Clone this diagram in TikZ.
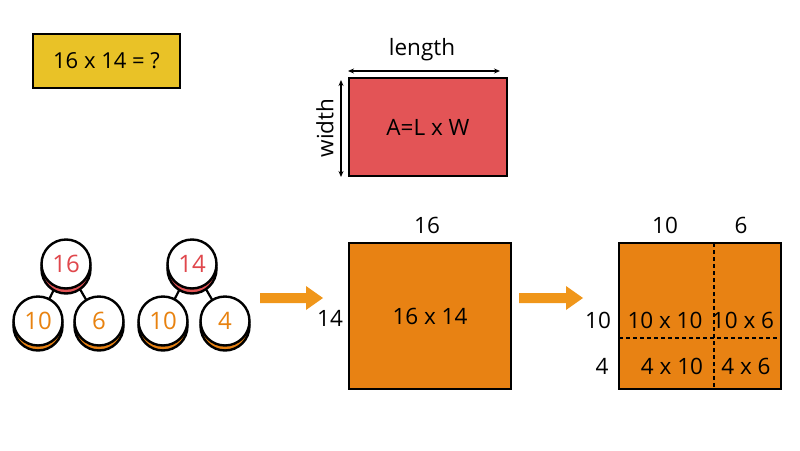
\documentclass[tikz,border=0pt]{standalone}
\usepackage{fontspec}
\setmainfont{Open Sans}
\usetikzlibrary{arrows.meta}
\definecolor{ylw}{HTML}{E9C227}
\definecolor{redf}{HTML}{E35456}
\definecolor{orf}{HTML}{E88213}
\definecolor{ornum}{HTML}{E8820F}
\definecolor{rednum}{HTML}{E0474C}
\definecolor{arr}{HTML}{F0961A}
\tikzset{
  lbl/.style={font=\fontsize{22.5}{26}\selectfont},
  bubble/.style={circle, draw=black, line width=2.4pt, fill=white, minimum size=49pt, inner sep=0pt},
  bnum/.style={font=\fontsize{24}{28}\selectfont},
  bigarrow/.style={draw=none, fill=arr},
  dim/.style={{Stealth[length=6pt,width=5pt]}-{Stealth[length=6pt,width=5pt]}, line width=1.2pt},
  box/.style={draw=black, line width=1.7pt},
}
\newcommand{\bub}[4]{% name, x, y, color
  \fill[#4, draw=black, line width=2.4pt] (#2,#3+5) circle (24.5pt);
  \node[bubble] (#1) at (#2,#3) {};
}
\begin{document}
\begin{tikzpicture}[x=1pt,y=-1pt]
\useasboundingbox (0,0) rectangle (800,450);
% yellow question box
\node[box, fill=ylw, minimum width=147pt, minimum height=54pt, inner sep=0pt, font=\fontsize{22}{26}\selectfont] (q) at (106.5,61) {16 x 14 = ?};
% red rectangle
\node[box, fill=redf, minimum width=158pt, minimum height=98pt, inner sep=0pt, lbl] (red) at (428,127) {A=L x W};
\coordinate (la) at (348,71); \coordinate (lb) at (500,71);
\draw[dim] (la) -- (lb);
\node[lbl] (len) at (422,50) {length};
\coordinate (wa) at (341,80); \coordinate (wb) at (341,177);
\draw[dim] (wa) -- (wb);
\node[lbl, rotate=90] (wid) at (325,128) {width};
% number bonds
\draw[line width=2.2pt] (66,265) -- (38,322);
\draw[line width=2.2pt] (66,265) -- (99,322);
\draw[line width=2.2pt] (192,265) -- (163,322);
\draw[line width=2.2pt] (192,265) -- (225,322);
\bub{b16}{66}{264}{redf}
\bub{b14}{192}{264}{redf}
\bub{b10a}{38}{321}{orf}
\bub{b6}{99}{321}{orf}
\bub{b10b}{163}{321}{orf}
\bub{b4}{225}{321}{orf}
\node[bnum, text=rednum] at (b16) {16};
\node[bnum, text=rednum] at (b14) {14};
\node[bnum, text=ornum] at (b10a) {10};
\node[bnum, text=ornum] at (b6) {6};
\node[bnum, text=ornum] at (b10b) {10};
\node[bnum, text=ornum] at (b4) {4};
% arrows
\fill[bigarrow] (260,293) -- (306,293) -- (306,286) -- (323,298) -- (306,310) -- (306,303) -- (260,303) -- cycle;
\fill[bigarrow] (519,293) -- (566,293) -- (566,286) -- (583,298) -- (566,310) -- (566,303) -- (519,303) -- cycle;
% middle square
\node[box, fill=orf, minimum width=162pt, minimum height=146pt, inner sep=0pt, lbl] (sq) at (430,316) {16 x 14};
\node[lbl] (t16) at (427,225) {16};
\node[lbl] (t14) at (330,318) {14};
% right square
\node[box, fill=orf, minimum width=162pt, minimum height=146pt, inner sep=0pt] (sq2) at (700,316) {};
\coordinate (v1) at (714,243); \coordinate (v2) at (714,389);
\coordinate (h1) at (619,338); \coordinate (h2) at (781,338);
\draw[line width=1.7pt, dash pattern=on 4pt off 3pt] (v1) -- (v2);
\draw[line width=1.7pt, dash pattern=on 4pt off 3pt] (h1) -- (h2);
\node[lbl] (c10) at (665,225) {10};
\node[lbl] (c6) at (741,225) {6};
\node[lbl] (r10) at (598,320) {10};
\node[lbl] (r4) at (602,366) {4};
\node[lbl] (a1) at (665,320) {10 x 10};
\node[lbl] (a2) at (743,320) {10 x 6};
\node[lbl] (a3) at (672,366) {4 x 10};
\node[lbl] (a4) at (746,366) {4 x 6};
\end{tikzpicture}
\end{document}
